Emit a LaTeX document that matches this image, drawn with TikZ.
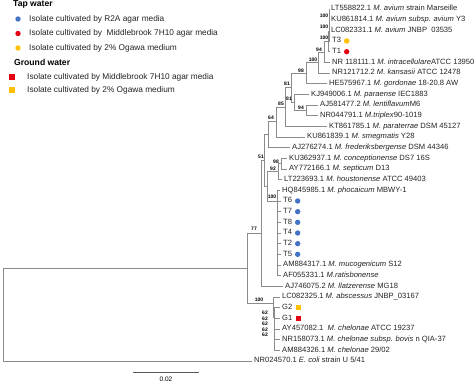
\documentclass[tikz,border=0pt]{standalone}
\usepackage{fontspec}
\setmainfont{Liberation Sans}
\usetikzlibrary{positioning}

\definecolor{treegray}{RGB}{140,140,140}
\definecolor{inkgray}{RGB}{35,35,35}
\definecolor{dotblue}{RGB}{68,114,196}
\definecolor{dotred}{RGB}{228,0,18}
\definecolor{dotyellow}{RGB}{255,192,0}

\tikzset{
  leaf/.style={anchor=west, inner sep=0pt, text height=5.5pt, text depth=1.6pt, text=inkgray, font=\fontsize{7.6}{9}\selectfont},
  boot/.style={inner sep=0pt, font=\fontsize{5}{6}\selectfont\bfseries},
  branch/.style={draw=treegray, line width=0.9pt},
  legtxt/.style={anchor=west, inner sep=0pt, text=inkgray, font=\fontsize{8.3}{10}\selectfont},
  leghead/.style={anchor=west, inner sep=0pt, font=\fontsize{8.6}{10}\selectfont\bfseries},
  isodot/.style={circle, inner sep=0pt, minimum size=5.4pt},
  isobox/.style={rectangle, inner sep=0pt, minimum size=5.6pt},
}

\begin{document}
\begin{tikzpicture}[x=1pt, y=-1pt]
  \useasboundingbox (0,0) rectangle (474,383);

  % legend
  \node[leghead] (HA) at (13,4.5) {Tap water};
  \node[isodot, fill=dotblue] (HB) at (18,19) {};
  \node[legtxt] (HC) at (29,19) {Isolate cultivated by R2A agar media};
  \node[isodot, fill=dotred] (HD) at (18,33.5) {};
  \node[legtxt] (HE) at (29,33.5) {Isolate cultivated by\ \ Middlebrook 7H10 agar media};
  \node[isodot, fill=dotyellow] (HF) at (18,48) {};
  \node[legtxt] (HG) at (29,48) {Isolate cultivated by 2\% Ogawa medium};
  \node[leghead] (HH) at (14,62.5) {Ground water};
  \node[isobox, fill=dotred] (HI) at (12,77) {};
  \node[legtxt] (HJ) at (27,77) {Isolate cultivated by Middlebrook 7H10 agar media};
  \node[isobox, fill=dotyellow] (HK) at (12,90) {};
  \node[legtxt] (HL) at (27,90) {Isolate cultivated by 2\% Ogawa medium};

  % leaves
  \node[leaf] (LA) at (331,9) {LT558822.1 \textit{M. avium} strain Marseille};
  \node[leaf] (LB) at (331,19.67) {KU861814.1 \textit{M. avium subsp. avium} Y3};
  \node[leaf] (LC) at (331,30.33) {LC082331.1 \textit{M. avium} JNBP\ \ 03535};
  \node[leaf] (LD) at (332,41) {T3};
  \node[isodot, fill=dotyellow, right=2.5pt of LD] (DD) {};
  \node[leaf] (LE) at (332,51.67) {T1};
  \node[isodot, fill=dotred, right=2.5pt of LE] (DE) {};
  \node[leaf] (LF) at (332,62.33) {NR\ 118111.1\ \textit{M. intracellulare}ATCC 13950};
  \node[leaf] (LG) at (332,73) {NR121712.2 \textit{M. kansasii} ATCC 12478};
  \node[leaf] (LH) at (329,83.67) {HE575967.1 \textit{M. gordonae} 18-20.8 AW};
  \node[leaf] (LI) at (311,94.33) {KJ949006.1 \textit{M. paraense} IEC1883};
  \node[leaf] (LJ) at (320,105) {AJ581477.2 \textit{M. lentiflavum}M6};
  \node[leaf] (LK) at (320,115.67) {NR044791.1 \textit{M.triplex}90-1019};
  \node[leaf] (LL) at (329,126.33) {KT861785.1 \textit{M. paraterrae} DSM 45127};
  \node[leaf] (LM) at (307,137) {KU861839.1 \textit{M. smegmatis} Y28};
  \node[leaf] (LN) at (292,147.67) {AJ276274.1 \textit{M. frederiksbergense} DSM 44346};
  \node[leaf] (LO) at (289,158.33) {KU362937.1 \textit{M. conceptionense} DS7 16S};
  \node[leaf] (LP) at (289,169) {AY772166.1 \textit{M. septicum} D13};
  \node[leaf] (LQ) at (284,179.67) {LT223693.1 \textit{M. houstonense} ATCC 49403};
  \node[leaf] (LR) at (282,190.33) {HQ845985.1 \textit{M. phocaicum} MBWY-1};
  \node[leaf] (LS) at (283,201) {T6};
  \node[isodot, fill=dotblue, right=2.5pt of LS] (DS) {};
  \node[leaf] (LT) at (283,211.67) {T7};
  \node[isodot, fill=dotblue, right=2.5pt of LT] (DT) {};
  \node[leaf] (LU) at (283,222.33) {T8};
  \node[isodot, fill=dotblue, right=2.5pt of LU] (DU) {};
  \node[leaf] (LV) at (283,233) {T4};
  \node[isodot, fill=dotblue, right=2.5pt of LV] (DV) {};
  \node[leaf] (LW) at (283,243.67) {T2};
  \node[isodot, fill=dotblue, right=2.5pt of LW] (DW) {};
  \node[leaf] (LX) at (283,254.33) {T5};
  \node[isodot, fill=dotblue, right=2.5pt of LX] (DX) {};
  \node[leaf] (LY) at (283,265) {AM884317.1 \textit{M. mucogenicum} S12};
  \node[leaf] (LZ) at (283,275.67) {AF055331.1 \textit{M.ratisbonense}};
  \node[leaf] (MA) at (285,286.33) {AJ746075.2 \textit{M. llatzerense} MG18};
  \node[leaf] (MB) at (282,297) {LC082325.1 \textit{M. abscessus} JNBP\_03167};
  \node[leaf] (MC) at (282,307.67) {G2};
  \node[isobox, fill=dotyellow, right=3pt of MC] (DC) {};
  \node[leaf] (MD) at (282,318.33) {G1};
  \node[isobox, fill=dotred, right=3pt of MD] (DM) {};
  \node[leaf] (ME) at (282,329) {AY457082.1\ \ \textit{M. chelonae} ATCC 19237};
  \node[leaf] (MF) at (282,339.67) {NR158073.1 \textit{M. chelonae subsp. bovis} n QIA-37};
  \node[leaf] (MG) at (282,350.33) {AM884326.1 \textit{M. chelonae} 29/02};
  \node[leaf] (MH) at (254,361) {NR024570.1 \textit{E. coli} strain U 5/41};

  % inner nodes
  \coordinate (NA) at (329,14.33);
  \coordinate (NB) at (329,22.33);
  \coordinate (NC) at (329,31.67);
  \coordinate (ND) at (328.5,41.67);
  \coordinate (NE) at (324,52);
  \coordinate (NF) at (318,62.5);
  \coordinate (NG) at (306,73.1);
  \coordinate (NH) at (306,110.33);
  \coordinate (NI) at (294,102.33);
  \coordinate (NJ) at (291,87.7);
  \coordinate (NK) at (285.5,107);
  \coordinate (NL) at (276,121.7);
  \coordinate (NM) at (268,134.7);
  \coordinate (NN) at (281,163.67);
  \coordinate (NO) at (278,171.67);
  \coordinate (NP) at (277,201);
  \coordinate (NQ) at (267,186.3);
  \coordinate (NR) at (264.5,160.5);
  \coordinate (NS) at (261,233);
  \coordinate (NT) at (274,345);
  \coordinate (NU) at (274,337);
  \coordinate (NV) at (274,327.7);
  \coordinate (NW) at (274,317.7);
  \coordinate (NX) at (273,303);
  \coordinate (NY) at (247,268);
  \coordinate (NZ) at (3,314.5);

  % branches
  \draw[branch] (NA) |- ([xshift=-2pt]LA.west);
  \draw[branch] (NA) |- ([xshift=-2pt]LB.west);
  \draw[branch] (NB) |- (NA);
  \draw[branch] (NB) |- ([xshift=-2pt]LC.west);
  \draw[branch] (NC) |- (NB);
  \draw[branch] (NC) |- ([xshift=-2pt]LD.west);
  \draw[branch] (ND) |- (NC);
  \draw[branch] (ND) |- ([xshift=-2pt]LE.west);
  \draw[branch] (NE) |- (ND);
  \draw[branch] (NE) |- ([xshift=-2pt]LF.west);
  \draw[branch] (NF) |- (NE);
  \draw[branch] (NF) |- ([xshift=-2pt]LG.west);
  \draw[branch] (NG) |- (NF);
  \draw[branch] (NG) |- ([xshift=-2pt]LH.west);
  \draw[branch] (NH) |- ([xshift=-2pt]LJ.west);
  \draw[branch] (NH) |- ([xshift=-2pt]LK.west);
  \draw[branch] (NI) |- ([xshift=-2pt]LI.west);
  \draw[branch] (NI) |- (NH);
  \draw[branch] (NJ) |- (NG);
  \draw[branch] (NJ) |- (NI);
  \draw[branch] (NK) |- (NJ);
  \draw[branch] (NK) |- ([xshift=-2pt]LL.west);
  \draw[branch] (NL) |- (NK);
  \draw[branch] (NL) |- ([xshift=-2pt]LM.west);
  \draw[branch] (NM) |- (NL);
  \draw[branch] (NM) |- ([xshift=-2pt]LN.west);
  \draw[branch] (NN) |- ([xshift=-2pt]LO.west);
  \draw[branch] (NN) |- ([xshift=-2pt]LP.west);
  \draw[branch] (NO) |- (NN);
  \draw[branch] (NO) |- ([xshift=-2pt]LQ.west);
  \draw[branch] (NP) |- ([xshift=-2pt]LR.west);
  \draw[branch] (NP) |- ([xshift=-2pt]LS.west);
  \draw[branch] (NP) |- ([xshift=-2pt]LT.west);
  \draw[branch] (NP) |- ([xshift=-2pt]LU.west);
  \draw[branch] (NP) |- ([xshift=-2pt]LV.west);
  \draw[branch] (NP) |- ([xshift=-2pt]LW.west);
  \draw[branch] (NP) |- ([xshift=-2pt]LX.west);
  \draw[branch] (NP) |- ([xshift=-2pt]LY.west);
  \draw[branch] (NP) |- ([xshift=-2pt]LZ.west);
  \draw[branch] (NQ) |- (NO);
  \draw[branch] (NQ) |- (NP);
  \draw[branch] (NR) |- (NM);
  \draw[branch] (NR) |- (NQ);
  \draw[branch] (NS) |- (NR);
  \draw[branch] (NS) |- ([xshift=-2pt]MA.west);
  \draw[branch] (NT) |- ([xshift=-2pt]MF.west);
  \draw[branch] (NT) |- ([xshift=-2pt]MG.west);
  \draw[branch] (NU) |- (NT);
  \draw[branch] (NU) |- ([xshift=-2pt]ME.west);
  \draw[branch] (NV) |- (NU);
  \draw[branch] (NV) |- ([xshift=-2pt]MD.west);
  \draw[branch] (NW) |- (NV);
  \draw[branch] (NW) |- ([xshift=-2pt]MC.west);
  \draw[branch] (NX) |- (NW);
  \draw[branch] (NX) |- ([xshift=-2pt]MB.west);
  \draw[branch] (NY) |- (NS);
  \draw[branch] (NY) |- (NX);
  \draw[branch] (NZ) |- (NY);
  \draw[branch] (NZ) |- ([xshift=-2pt]MH.west);

  % bootstrap values
  \node[boot] (BA) at (324,16) {100};
  \node[boot] (BB) at (324,27) {100};
  \node[boot] (BC) at (324,38) {100};
  \node[boot] (BD) at (319,50) {94};
  \node[boot] (BE) at (313,60) {100};
  \node[boot] (BF) at (301,71) {98};
  \node[boot] (BG) at (287,84) {81};
  \node[boot] (BH) at (289,99) {81};
  \node[boot] (BI) at (281,104) {85};
  \node[boot] (BJ) at (301,108) {94};
  \node[boot] (BK) at (271,118) {64};
  \node[boot] (BL) at (261,157) {51};
  \node[boot] (BM) at (276,162) {98};
  \node[boot] (BN) at (273,169) {92};
  \node[boot] (BO) at (272,197) {100};
  \node[boot] (BP) at (254,229) {77};
  \node[boot] (BQ) at (259,300) {100};
  \node[boot] (BR) at (265,313) {62};
  \node[boot] (BS) at (265,318.5) {62};
  \node[boot] (BT) at (265,324) {62};
  \node[boot] (BU) at (265,329.5) {62};
  \node[boot] (BV) at (265,335) {62};

  % scale bar
  \coordinate (SA) at (133,372);
  \coordinate (SB) at (199,372);
  \draw[draw=black!65, line width=0.8pt] (SA) -- (SB);
  \node[boot, font=\fontsize{6.5}{7}\selectfont] (SC) at (166,379) {0.02};
\end{tikzpicture}
\end{document}
